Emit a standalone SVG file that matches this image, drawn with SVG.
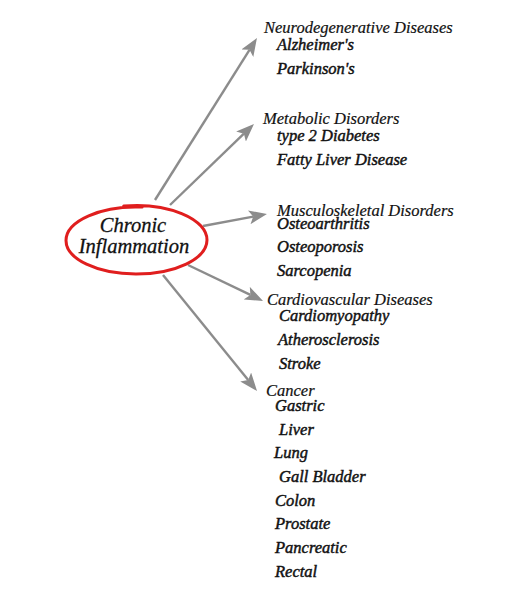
<svg xmlns="http://www.w3.org/2000/svg" width="513" height="600" viewBox="0 0 513 600">
<style>
text{font-family:"Liberation Serif","Times New Roman",serif;font-style:italic;fill:#111;}
.h{font-size:16.5px;stroke:#111;stroke-width:0.2;}
.s{font-size:16.5px;stroke:#111;stroke-width:0.45;}
.c{font-size:20.5px;text-anchor:middle;stroke:#111;stroke-width:0.3;}
.conn line{stroke:#8c8c8c;stroke-width:2.4;fill:none;}
</style>
<defs>
<marker id="ah" markerUnits="userSpaceOnUse" viewBox="0 0 18 14" markerWidth="18" markerHeight="14" refX="4" refY="7" orient="auto">
<path d="M0,0 L18,7 L0,14 L4,7 z" fill="#8c8c8c"/>
</marker>
</defs>
<rect width="513" height="600" fill="#fff"/>
<g id="connectors" class="conn">
<line x1="155" y1="200" x2="249.5" y2="49.8" marker-end="url(#ah)"/>
<line x1="170" y1="205" x2="243.9" y2="133.7" marker-end="url(#ah)"/>
<line x1="203" y1="226" x2="253.2" y2="216.6" marker-end="url(#ah)"/>
<line x1="188" y1="265" x2="250.4" y2="294.9" marker-end="url(#ah)"/>
<line x1="163" y1="275" x2="248.2" y2="380.1" marker-end="url(#ah)"/>
</g>
<g id="center">
<path d="M142.1,207.1 A70 33.5 0 0 0 66,240.5 A70 33.5 0 0 0 136,274 A71 34 0 0 0 207,240 A71 34.5 0 0 0 123.7,206" fill="none" stroke="#e01e1e" stroke-width="3" stroke-linecap="round"/>
<text class="c" x="133" y="232">Chronic</text>
<text class="c" x="134" y="253">Inflammation</text>
</g>
<g id="neuro">
<text class="h" x="264" y="32.5">Neurodegenerative Diseases</text>
<text class="s" x="277" y="50">Alzheimer's</text>
<text class="s" x="277" y="73.5">Parkinson's</text>
</g>
<g id="metabolic">
<text class="h" x="263" y="124">Metabolic Disorders</text>
<text class="s" x="277" y="141">type 2 Diabetes</text>
<text class="s" x="277" y="165">Fatty Liver Disease</text>
</g>
<g id="musculo">
<text class="h" x="277" y="215.5">Musculoskeletal Disorders</text>
<text class="s" x="277" y="228.5">Osteoarthritis</text>
<text class="s" x="277" y="252">Osteoporosis</text>
<text class="s" x="277" y="276">Sarcopenia</text>
</g>
<g id="cardio">
<text class="h" x="267" y="305">Cardiovascular Diseases</text>
<text class="s" x="279" y="320.5">Cardiomyopathy</text>
<text class="s" x="278" y="345">Atherosclerosis</text>
<text class="s" x="279" y="368.5">Stroke</text>
</g>
<g id="cancer">
<text class="h" x="266" y="396">Cancer</text>
<text class="s" x="275" y="411">Gastric</text>
<text class="s" x="279" y="434.5">Liver</text>
<text class="s" x="274" y="458">Lung</text>
<text class="s" x="279" y="482">Gall Bladder</text>
<text class="s" x="275" y="505.5">Colon</text>
<text class="s" x="275" y="529">Prostate</text>
<text class="s" x="275" y="553">Pancreatic</text>
<text class="s" x="275" y="577">Rectal</text>
</g>
</svg>
